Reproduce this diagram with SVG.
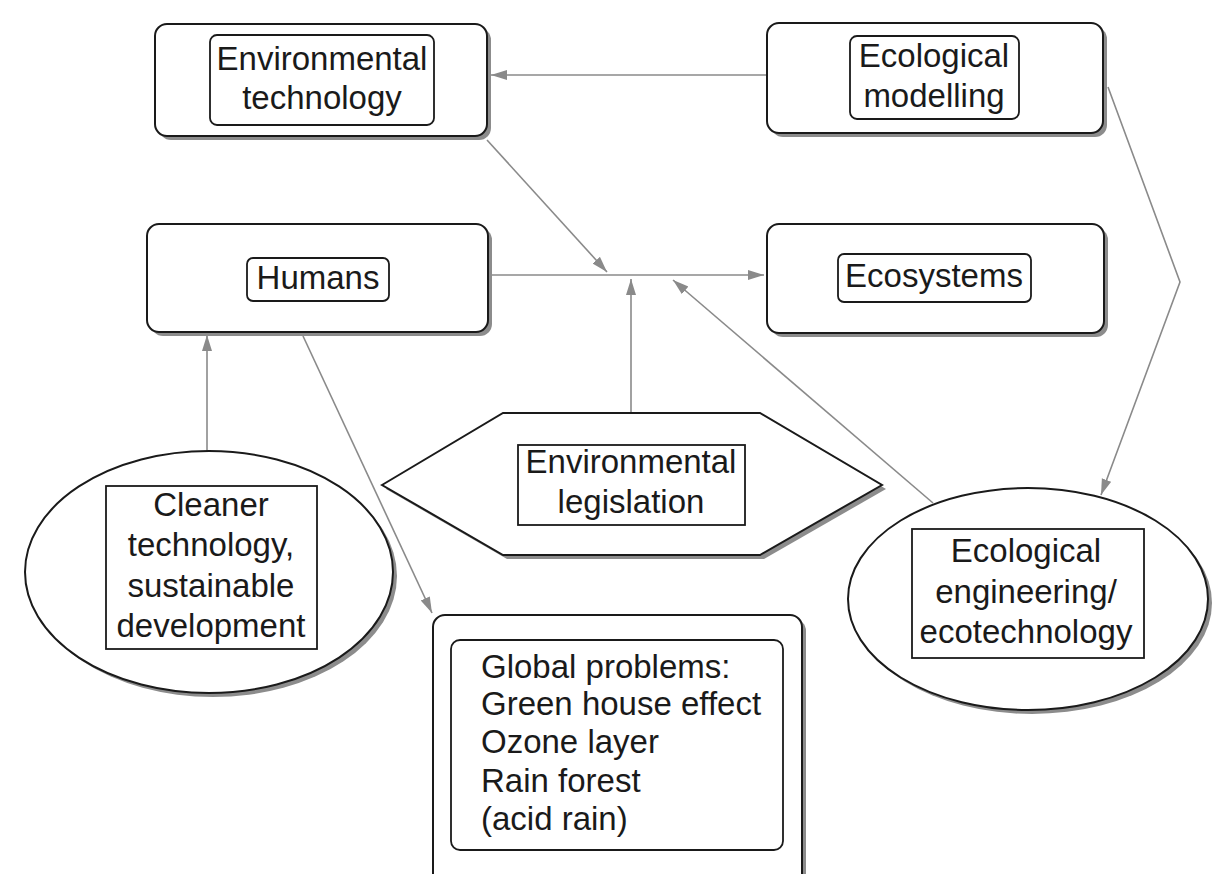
<svg xmlns="http://www.w3.org/2000/svg" width="1224" height="874" viewBox="0 0 1224 874">
<style>
.box{fill:#fff;stroke:#1a1a1a;stroke-width:2}
.sh{fill:#8c8c8c;stroke:none}
.in{fill:#fff;stroke:#1a1a1a;stroke-width:1.8}
.t{font-family:"Liberation Sans",Arial,sans-serif;font-size:33px;fill:#1a1a1a}
.c{text-anchor:middle}
.ln{fill:none;stroke:#8a8a8a;stroke-width:1.6}
</style>
<defs>
<marker id="ah" markerUnits="userSpaceOnUse" markerWidth="18" markerHeight="12" refX="16" refY="5" orient="auto">
<path d="M0,0 L16,5 L0,10 z" fill="#8a8a8a"/>
</marker>
</defs>
<rect width="1224" height="874" fill="#fff"/>

<g id="connectors">
<line class="ln" x1="767" y1="75" x2="491" y2="75" marker-end="url(#ah)"/>
<line class="ln" x1="487" y1="140" x2="607" y2="272" marker-end="url(#ah)"/>
<line class="ln" x1="490" y1="275" x2="764" y2="275" marker-end="url(#ah)"/>
<line class="ln" x1="631" y1="413" x2="631" y2="279" marker-end="url(#ah)"/>
<line class="ln" x1="933" y1="503" x2="673" y2="280" marker-end="url(#ah)"/>
<polyline class="ln" points="1108,87 1180,282 1101,495" marker-end="url(#ah)"/>
<line class="ln" x1="207" y1="451" x2="207" y2="335" marker-end="url(#ah)"/>
<line class="ln" x1="303" y1="336" x2="432" y2="613" marker-end="url(#ah)"/>
</g>

<g id="env-tech">
<rect class="sh" x="159" y="28" width="332" height="112" rx="12"/>
<rect class="box" x="155" y="24" width="332" height="112" rx="12"/>
<rect class="in" x="210" y="35" width="224" height="90" rx="7"/>
<text class="t c" x="322" y="70">Environmental</text>
<text class="t c" x="322" y="109">technology</text>
</g>

<g id="eco-model">
<rect class="sh" x="771" y="27" width="336" height="110" rx="12"/>
<rect class="box" x="767" y="23" width="336" height="110" rx="12"/>
<rect class="in" x="850" y="36" width="169" height="83" rx="7"/>
<text class="t c" x="934" y="67">Ecological</text>
<text class="t c" x="934" y="107">modelling</text>
</g>

<g id="humans">
<rect class="sh" x="151" y="228" width="341" height="108" rx="12"/>
<rect class="box" x="147" y="224" width="341" height="108" rx="12"/>
<rect class="in" x="247" y="258" width="142" height="43" rx="6"/>
<text class="t c" x="318" y="289">Humans</text>
</g>

<g id="ecosystems">
<rect class="sh" x="771" y="228" width="337" height="109" rx="12"/>
<rect class="box" x="767" y="224" width="337" height="109" rx="12"/>
<rect class="in" x="838" y="254" width="193" height="48" rx="6"/>
<text class="t c" x="934" y="287">Ecosystems</text>
</g>

<g id="legislation">
<polygon class="sh" points="386,489 507,417 764,417 886,489 764,559 507,559"/>
<polygon class="box" points="382,485 503,413 760,413 882,485 760,555 503,555"/>
<rect class="in" x="518" y="445" width="227" height="80"/>
<text class="t c" x="631" y="473">Environmental</text>
<text class="t c" x="631" y="513">legislation</text>
</g>

<g id="cleaner">
<ellipse class="sh" cx="213" cy="576" rx="184" ry="121"/>
<ellipse class="box" cx="209" cy="572" rx="184" ry="121"/>
<rect class="in" x="106" y="486" width="211" height="163"/>
<text class="t c" x="211" y="516">Cleaner</text>
<text class="t c" x="211" y="556">technology,</text>
<text class="t c" x="211" y="597">sustainable</text>
<text class="t c" x="211" y="637">development</text>
</g>

<g id="eco-eng">
<ellipse class="sh" cx="1032" cy="603" rx="180" ry="111"/>
<ellipse class="box" cx="1028" cy="599" rx="180" ry="111"/>
<rect class="in" x="912" y="529" width="232" height="129"/>
<text class="t c" x="1026" y="562">Ecological</text>
<text class="t c" x="1026" y="603">engineering/</text>
<text class="t c" x="1026" y="643">ecotechnology</text>
</g>

<g id="global">
<rect class="sh" x="437" y="619" width="369" height="280" rx="12"/>
<rect class="box" x="433" y="615" width="369" height="280" rx="12"/>
<rect class="in" x="451" y="640" width="332" height="210" rx="9"/>
<text class="t" x="481" y="678">Global problems:</text>
<text class="t" x="481" y="715">Green house effect</text>
<text class="t" x="481" y="753">Ozone layer</text>
<text class="t" x="481" y="792">Rain forest</text>
<text class="t" x="481" y="830">(acid rain)</text>
</g>
</svg>
